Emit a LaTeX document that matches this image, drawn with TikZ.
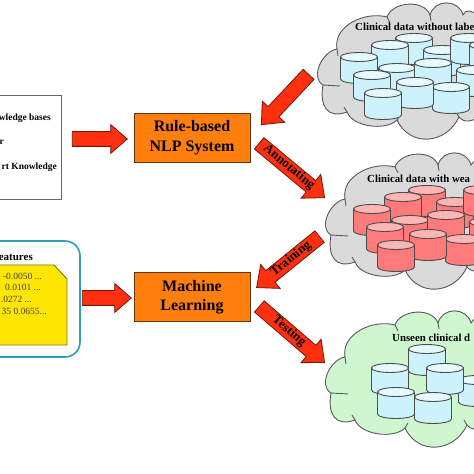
\documentclass[tikz,border=0pt]{standalone}
\usepackage{fontspec}
\setmainfont{Liberation Serif}
\usetikzlibrary{positioning,shapes.arrows}

\definecolor{sysorange}{HTML}{FF7F0E}
\definecolor{arrowred}{HTML}{FF3010}
\definecolor{cloudgray}{HTML}{DADADA}
\definecolor{cloudgreen}{HTML}{CFF7CF}
\definecolor{drumblue}{HTML}{CCF2FB}
\definecolor{drumbluetop}{HTML}{E6F9FD}
\definecolor{drumred}{HTML}{FF7B7B}
\definecolor{drumredtop}{HTML}{FFB5B5}
\definecolor{noteyellow}{HTML}{FFE600}
\definecolor{panelteal}{HTML}{2F9FB8}

\newcommand{\blobshape}[3]{%
  \begin{scope}[shift={(#1,#2)}]
    \draw[blob,fill=#3] (337,425) to[out=100,in=165] (387,457) to[out=70,in=110] (430,459)
      to[out=75,in=105,looseness=1.3] (463,459) to[out=70,in=90] (490,440) to[out=-60,in=60] (495,385)
      to[out=-90,in=-50] (459,357) to[out=-115,in=-65,looseness=1.25] (397,354) to[out=-135,in=-70,looseness=0.8] (347,362)
      to[out=-160,in=-100,looseness=1.5] (323,389) to[out=150,in=190] (337,425) -- cycle;
    \draw[blob] (323,389) -- (340,388);
    \draw[blob] (337,425) -- (338,418);
    \draw[blob] (387,457) -- (390,451);
    \draw[blob] (430,459) -- (431,453);
    \draw[blob] (347,362) -- (344,367);
    \draw[blob] (397,354) -- (400,359);
    \draw[blob] (459,357) -- (456,362);
  \end{scope}}
\newcommand{\drumshape}[4]{%
  \draw[drum,fill=#3] (#1-18.5,#2) -- ++(0,-22) arc[start angle=180,end angle=360,x radius=18.5pt,y radius=4.5pt] -- ++(0,22) -- cycle;
  \draw[drum,fill=#4] (#1,#2) ellipse[x radius=18.5pt,y radius=4.5pt];}

\begin{document}
\begin{tikzpicture}[x=1pt,y=1pt,
  blob/.style={draw=black!65,line width=0.9pt},
  drum/.style={draw=black!70,line width=0.9pt},
  sysbox/.style={draw=black!60!sysorange,fill=sysorange,line width=0.8pt,minimum width=116pt,minimum height=49pt,align=center,inner sep=1pt,font=\fontsize{16}{19.5}\selectfont\bfseries},
  redarrow/.style={single arrow,draw=black!55!arrowred,fill=arrowred,line width=0.8pt,minimum width=30pt,single arrow head extend=8pt,single arrow head indent=0pt,single arrow tip angle=82,inner sep=0pt,text height=9.5pt,text depth=4.5pt,font=\fontsize{13}{13}\selectfont\bfseries},
  side/.style={anchor=east,inner sep=0pt,font=\fontsize{9.5}{11}\selectfont\bfseries},
  num/.style={anchor=east,inner sep=0pt,text=black!75,font=\fontsize{9.5}{11}\selectfont},
  title/.style={anchor=west,inner sep=0pt,font=\fontsize{10.8}{12}\selectfont\bfseries}]
\path[use as bounding box,clip] (0,0) rectangle (474,474);
\fill[white] (0,0) rectangle (474,474);

\blobshape{0}{0}{cloudgray}
\foreach \x/\y in {414/436,390/429,359/417,442/424,469/436,488/429,397/406,433/411,372/399,475/404,451/387,415/392,383/381}
  {\drumshape{\x}{\y}{drumblue}{drumbluetop}}
\node[title] (nolabel) at (355,447) {Clinical data without labe};

\blobshape{8}{-150}{cloudgray}
\foreach \x/\y in {414/436,390/429,359/417,442/424,469/436,488/429,397/406,433/411,372/399,475/404,451/387,415/392,383/381}
  {\drumshape{\x+13}{\y-152}{drumred}{drumredtop}}
\node[title] (weak) at (367,295) {Clinical data with wea};

\blobshape{8}{-308}{cloudgreen}
\foreach \x/\y in {427/125,390/106,477/94,445/106,396/82,433/77}
  {\drumshape{\x}{\y}{drumblue}{drumbluetop}}
\node[title] (unseen) at (392,136) {Unseen clinical d};

\node[sysbox] (nlp) at (192,336.5) {Rule-based\\NLP System};
\node[sysbox,below=110pt of nlp] (ml) {Machine\\Learning};

\draw[draw=black!60,fill=white,line width=0.9pt] (-5,275) rectangle (61,379);
\node[side] (know) at (51,356) {wledge bases};
\node[side] (dict) at (4,332) {r};
\node[side] (expert) at (57,307) {rt Knowledge};

\draw[panelteal,fill=white,line width=1.6pt,rounded corners=15pt] (-30,117) rectangle (80,233);
\node[side,font=\fontsize{11}{12}\selectfont\bfseries] (feat) at (33,217) {eatures};
\draw[draw=black!50!noteyellow,fill=noteyellow,line width=0.9pt] (-5,129) -- (67,129) -- (67,195) -- (54,209) -- (-5,209) -- cycle;
\node[num] (rowa) at (42,198) {-0.0050 ...};
\node[num] (rowb) at (41,187) {0.0101 ...};
\node[num] (rowc) at (32,175) {.0272 ...};
\node[num] (rowd) at (47,163) {35 0.0655...};

\node[redarrow,minimum height=55pt,minimum width=28pt,single arrow head extend=7pt] (toNlp) at (95.5,335) {};
\node[redarrow,minimum height=49pt,minimum width=28pt,single arrow head extend=7pt] (toMl) at (102.5,176) {};
\node[redarrow,minimum height=69pt,rotate=226.8] (rules) at (287.9,377.6) {};
\node[redarrow,minimum height=85pt,rotate=-39.7] (annot) at (288.6,306.2) {Annotating};
\node[redarrow,minimum height=81pt,rotate=39,shape border rotate=180] (train) at (291.4,214.6) {Training};
\node[redarrow,minimum height=86pt,rotate=-40.7] (test) at (288.7,142.3) {Testing};
\end{tikzpicture}
\end{document}
